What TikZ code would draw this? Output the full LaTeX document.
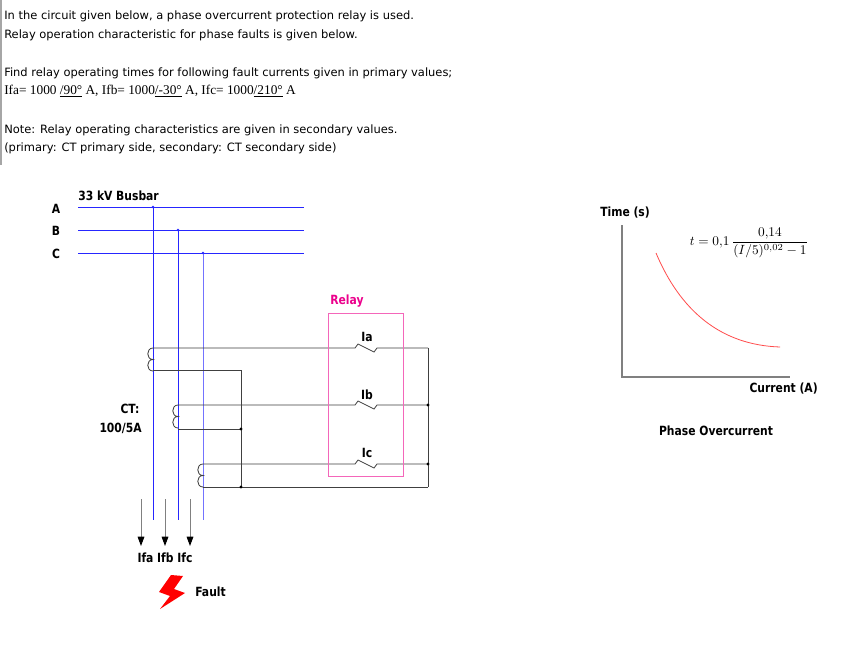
\documentclass[tikz,border=0pt]{standalone}
\usepackage{fontspec}
\setmainfont{DejaVu Sans}
\newfontfamily\serifx{Liberation Serif}
\newfontfamily\lbl{DejaVu Sans}[FakeStretch=0.85]
\usetikzlibrary{arrows.meta}
\begin{document}
\begin{tikzpicture}[x=0.75pt,y=-0.75pt,
  txt/.style={anchor=west,inner sep=0pt,font=\fontsize{8.6pt}{10pt}\selectfont},
  lab/.style={inner sep=0pt,font=\lbl\fontsize{9.5pt}{11pt}\selectfont\bfseries},
  bus/.style={blue!85!white,line width=0.6pt},
  wire/.style={black!75,line width=0.6pt},
  dot/.style={circle,fill=black,inner sep=0pt,minimum size=2.5pt}]
\useasboundingbox (0,0) rectangle (845,665);
\fill[white] (0,0) rectangle (845,665);
\draw[gray!70,line width=1pt] (1,0) -- (1,165);
% text
\node[txt] (t1) at (4,16) {In the circuit given below, a phase overcurrent protection relay is used.};
\node[txt] (t2) at (4,35) {Relay operation characteristic for phase faults is given below.};
\node[txt] (t3) at (4,73) {Find relay operating times for following fault currents given in primary values;};
\node[txt,font=\serifx\fontsize{10pt}{11pt}\selectfont] (t4) at (4,91) {Ifa= 1000 \underline{/90°} A, Ifb= 1000\underline{/-30°} A, Ifc= 1000\underline{/210°} A};
\node[txt] (t5) at (4,130) {Note: Relay operating characteristics are given in secondary values.};
\node[txt] (t6) at (4,148) {(primary: CT primary side, secondary: CT secondary side)};
% busbar
\node[lab] (A) at (56,209) {A};
\node[lab] (B) at (56,231) {B};
\node[lab] (C) at (56,254) {C};
\node[lab,anchor=west] (bb) at (78,196) {33 kV Busbar};
\coordinate (aL) at (78,207); \coordinate (aR) at (304,207);
\coordinate (bL) at (78,230); \coordinate (bR) at (304,230);
\coordinate (cL) at (78,253); \coordinate (cR) at (304,253);
\draw[bus] (aL) -- (aR); \draw[bus] (bL) -- (bR); \draw[bus] (cL) -- (cR);
\coordinate (a0) at (153,207); \coordinate (a1) at (153,520);
\coordinate (b0) at (178,230); \coordinate (b1) at (178,520);
\coordinate (c0) at (203,253); \coordinate (c1) at (203,520);
\draw[bus] (a0) -- (a1); \draw[bus] (b0) -- (b1); \draw[bus,blue!55] (c0) -- (c1);
\fill[blue!85!white] (a0) circle (1.3) (b0) circle (1.3) (c0) circle (1.3);
% CT coils
\foreach \x/\y in {153/348,178/405,203/464}{
  \draw[wire] (\x,\y) .. controls (\x-7,\y) and (\x-7,\y+11.5) .. (\x,\y+11.5)
     .. controls (\x-7,\y+11.5) and (\x-7,\y+23) .. (\x,\y+23);
}
\coordinate (R1) at (428,348); \coordinate (R2) at (428,405); \coordinate (R3) at (428,464); \coordinate (R4) at (428,487);
\coordinate (N1) at (241,370); \coordinate (N2) at (241,429); \coordinate (N3) at (241,487);
% relay coil wires
\foreach \x/\y/\r in {153/348/R1,178/405/R2,203/464/R3}{
  \draw[wire] (\x,\y) -- (355,\y) -- (358,\y-4) -- (374,\y+4) -- (377,\y) -- (\r);
}
\draw[wire] (153,370) -- (N1) -- (N3);
\draw[wire] (178,429) -- (N2);
\draw[wire] (203,487) -- (R4);
\draw[wire] (R1) -- (R4);
\node[dot] at (R2) {}; \node[dot] at (R3) {};
\node[dot] at (N2) {}; \node[dot] at (N3) {};
\node[lab] (Ia) at (367,337) {Ia};
\node[lab] (Ib) at (367,395) {Ib};
\node[lab] (Ic) at (367,453) {Ic};
% relay box
\draw[magenta!60,line width=0.6pt] (328,313) rectangle (403,476);
\node[lab,text=magenta] (relay) at (347,301) {Relay};
\node[lab] (ct1) at (130,409) {CT:};
\node[lab,anchor=east] (ct2) at (142,428) {100/5A};
% fault arrows
\foreach \x/\n in {141/fa,165/fb,190/fc}{
  \coordinate (\n0) at (\x,499); \coordinate (\n1) at (\x,546);
  \draw[gray,line width=0.7pt,-{Triangle[black,length=7pt,width=5pt]}] (\n0) -- (\n1);
}
\node[lab] (ifs) at (165,558) {Ifa Ifb Ifc};
\fill[red] (171,575) -- (159,592) -- (170,596) -- (160,609) -- (185,593) -- (174,589) -- (183,576) -- cycle;
\node[lab,anchor=west] (fault) at (195,592) {Fault};
% graph
\coordinate (O) at (622,377); \coordinate (Yt) at (622,225); \coordinate (Xr) at (790,377);
\draw[gray,line width=0.8pt] (Yt) -- (O) -- (Xr);
\node[lab,anchor=west] (time) at (600,213) {Time (s)};
\node[lab,anchor=east] (cur) at (818,389) {Current (A)};
\node[lab] (ph) at (716,431) {Phase Overcurrent};
\node[inner sep=0pt,font=\fontsize{10pt}{12pt}\selectfont] (eq) at (749,243) {$\displaystyle t=0{,}1\,\frac{0{,}14}{(I/5)^{0{,}02}-1}$};
\draw[red!60!pink,line width=0.6pt] (656,253) .. controls (680,310) and (720,345) .. (780,347);
\end{tikzpicture}
\end{document}
